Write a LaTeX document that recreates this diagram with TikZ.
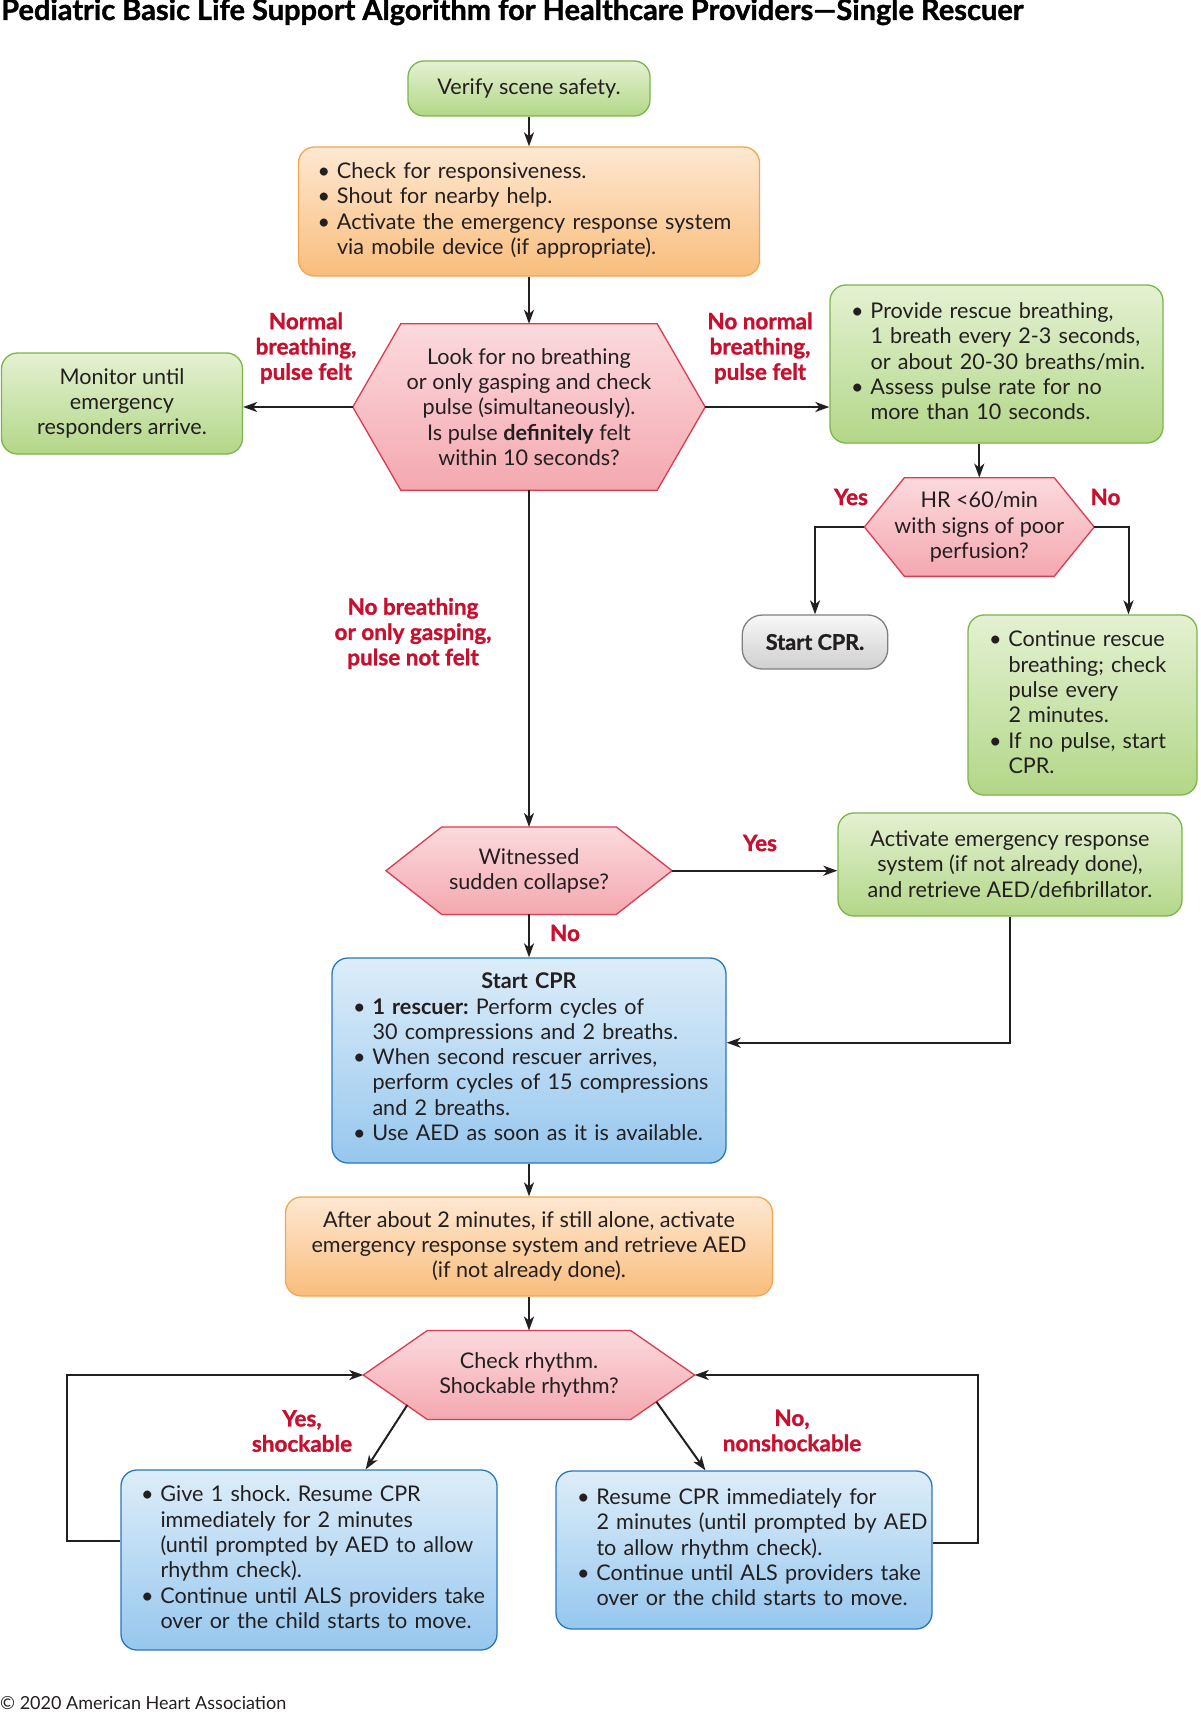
\documentclass[tikz,border=0pt]{standalone}
\usepackage{fontspec}
\setmainfont{Lato}
\newfontfamily\heavyfam{Lato}[FakeBold=1.2]
\usetikzlibrary{arrows.meta,backgrounds,calc}
\definecolor{txt}{HTML}{231F20}
\definecolor{lbl}{HTML}{C8102E}
\definecolor{gT}{HTML}{E4F1D2}
\definecolor{gB}{HTML}{B2D788}
\definecolor{gD}{HTML}{7AB648}
\definecolor{oT}{HTML}{FEE8D2}
\definecolor{oB}{HTML}{F9BD7C}
\definecolor{oD}{HTML}{F4A54E}
\definecolor{pT}{HTML}{FBDADD}
\definecolor{pB}{HTML}{F4A8B0}
\definecolor{pD}{HTML}{DE3A4F}
\definecolor{bT}{HTML}{DDEDF9}
\definecolor{bB}{HTML}{96C7EE}
\definecolor{bD}{HTML}{2A76BD}
\definecolor{yT}{HTML}{F8F8F8}
\definecolor{yB}{HTML}{CFCFCF}
\definecolor{yD}{HTML}{7F7F7F}
\frenchspacing
\newcommand\bodyfont{\fontsize{21.6}{25.3}\selectfont}
\newcommand\labfont{\heavyfam\fontsize{22.5}{25.3}\selectfont\bfseries}
\newcommand\titlefont{\heavyfam\fontsize{29}{32}\selectfont\bfseries}
\newcommand\bulit{\makebox[19.5pt][l]{•}}
\newcommand\hexbg[2]{\begin{pgfonlayer}{background}\path[hexpath] (#1.west) -- ([xshift=#2]#1.north west) -- ([xshift=-#2]#1.north east) -- (#1.east) -- ([xshift=-#2]#1.south east) -- ([xshift=#2]#1.south west) -- cycle;\end{pgfonlayer}}
\tikzset{
  base/.style={rounded corners=16pt, line width=1.3pt, inner sep=0pt, font=\bodyfont, text=txt, align=center},
  gbox/.style={base, draw=gD, top color=gT, bottom color=gB},
  obox/.style={base, draw=oD, top color=oT, bottom color=oB},
  bbox/.style={base, draw=bD, top color=bT, bottom color=bB},
  ybox/.style={base, draw=yD, top color=yT, bottom color=yB},
  hexnode/.style={inner sep=0pt, font=\bodyfont, text=txt, align=center},
  hexpath/.style={draw=pD, line width=1.3pt, top color=pT, bottom color=pB},
  conn/.style={line width=2pt, draw=txt, -{Stealth[length=14pt,width=10pt,inset=4pt]}},
  lab/.style={font=\labfont, text=lbl, align=center, inner sep=0pt},
}
\begin{document}
\begin{tikzpicture}[x=1pt,y=-1pt]
\useasboundingbox (0,0) rectangle (1200,1712);
\begin{pgfonlayer}{background}\fill[white] (0,0) rectangle (1200,1712);\end{pgfonlayer}

\node[anchor=base west, font=\titlefont, text=black, inner sep=0pt] (title) at (1,20) {Pediatric Basic Life Support Algorithm for Healthcare Providers—Single Rescuer};

\node[gbox, minimum width=242pt, minimum height=55pt] (verify) at (529,88.5) {Verify scene safety.};

\node[obox, text width=423pt, inner xsep=19pt, minimum height=129pt, align=left] (chk) at (529,211.5) {\begin{tabular}{@{}l@{}l@{}}\bulit&Check for responsiveness.\\\bulit&Shout for nearby help.\\\bulit&Activate the emergency response system\\&via mobile device (if appropriate).\end{tabular}};

\node[hexnode, minimum width=352pt, minimum height=166pt] (hex1) at (529,407) {Look for no breathing\\or only gasping and check\\pulse (simultaneously).\\Is pulse \textbf{definitely} felt\\within 10 seconds?};
\hexbg{hex1}{48pt}

\node[gbox, minimum width=241pt, minimum height=101pt] (mon) at (122,403.5) {Monitor until\\emergency\\responders arrive.};

\node[gbox, text width=291pt, inner xsep=21pt, minimum height=158pt, align=left] (resc) at (996.5,364) {\begin{tabular}{@{}l@{}l@{}}\bulit&Provide rescue breathing,\\&1 breath every 2-3 seconds,\\&or about 20-30 breaths/min.\\\bulit&Assess pulse rate for no\\&more than 10 seconds.\end{tabular}};

\node[hexnode, minimum width=229.4pt, minimum height=98.3pt] (hr) at (979.3,527) {HR <60/min\\with signs of poor\\perfusion?};
\hexbg{hr}{40pt}

\node[ybox, rounded corners=20pt, minimum width=145.5pt, minimum height=54pt, font=\bodyfont\heavyfam\bfseries] (scpr) at (815,642) {Start CPR.};

\node[gbox, text width=187pt, inner xsep=21pt, minimum height=180pt, align=left] (cont) at (1082.5,705) {\begin{tabular}{@{}l@{}l@{}}\bulit&Continue rescue\\&breathing; check\\&pulse every\\&2 minutes.\\\bulit&If no pulse, start\\&CPR.\end{tabular}};

\node[hexnode, minimum width=285.7pt, minimum height=87pt] (wit) at (529,870.7) {Witnessed\\sudden collapse?};
\hexbg{wit}{55.7pt}

\node[gbox, minimum width=344pt, minimum height=103pt] (act) at (1010,864.5) {Activate emergency response\\system (if not already done),\\and retrieve AED/defibrillator.};

\node[bbox, text width=352pt, inner xsep=21pt, minimum height=205pt, align=left] (cpr) at (529,1060.5) {{\centering\bfseries Start CPR\par}\begin{tabular}[t]{@{}l@{}l@{}}\bulit&\textbf{1 rescuer:} Perform cycles of\\&30 compressions and 2 breaths.\\\bulit&When second rescuer arrives,\\&perform cycles of 15 compressions\\&and 2 breaths.\\\bulit&Use AED as soon as it is available.\end{tabular}};

\node[obox, minimum width=487pt, minimum height=99pt] (aft) at (529,1246.5) {After about 2 minutes, if still alone, activate\\emergency response system and retrieve AED\\(if not already done).};

\node[hexnode, minimum width=331pt, minimum height=88.6pt] (rhy) at (529,1375) {Check rhythm.\\Shockable rhythm?};
\hexbg{rhy}{64pt}

\node[bbox, text width=336pt, inner xsep=20pt, minimum height=180pt, align=left] (shk) at (309,1560) {\begin{tabular}{@{}l@{}l@{}}\bulit&Give 1 shock. Resume CPR\\&immediately for 2 minutes\\&(until prompted by AED to allow\\&rhythm check).\\\bulit&Continue until ALS providers take\\&over or the child starts to move.\end{tabular}};

\node[bbox, text width=334pt, inner xsep=21pt, minimum height=158pt, align=left] (nsh) at (744,1550) {\begin{tabular}{@{}l@{}l@{}}\bulit&Resume CPR immediately for\\&2 minutes (until prompted by AED\\&to allow rhythm check).\\\bulit&Continue until ALS providers take\\&over or the child starts to move.\end{tabular}};

% labels
\node[lab] (lnorm) at (306,348) {Normal\\breathing,\\pulse felt};
\node[lab] (lnonorm) at (760,348) {No normal\\breathing,\\pulse felt};
\node[lab] (lnob) at (413,633.5) {No breathing\\or only gasping,\\pulse not felt};
\node[lab] (lyhr) at (851,497) {Yes};
\node[lab] (lnhr) at (1105.5,497) {No};
\node[lab] (lyw) at (760,843) {Yes};
\node[lab] (lnw) at (565,933) {No};
\node[lab] (lys) at (302,1431) {Yes,\\shockable};
\node[lab] (lns) at (792,1430.5) {No,\\nonshockable};

\node[anchor=west, font=\fontsize{18}{20}\selectfont, text=txt, inner sep=0pt] (copy) at (0,1703) {© 2020 American Heart Association};

% connectors
\coordinate (cL) at (66.5,1375);
\coordinate (cR) at (978,1375);
\draw[conn] (verify.south) -- (chk.north);
\draw[conn] (chk.south) -- (hex1.north);
\draw[conn] (hex1.west) -- (hex1.west -| mon.east);
\draw[conn] (hex1.east) -- (hex1.east -| resc.west);
\draw[conn] (hr.north |- resc.south) -- (hr.north);
\draw[conn] (hr.west) -| (scpr.north);
\draw[conn] (hr.east) -| ([xshift=46pt]cont.north);
\draw[conn] (hex1.south) -- (wit.north);
\draw[conn] (wit.east) -- (wit.east -| act.west);
\draw[conn] (wit.south) -- (cpr.north);
\draw[conn] (act.south) |- ([yshift=17.8pt]cpr.east);
\draw[conn] (cpr.south) -- (aft.north);
\draw[conn] (aft.south) -- (rhy.north);
\draw[conn] ([xshift=-121.7pt,yshift=-30pt]rhy.center) -- ([xshift=56.7pt]shk.north);
\draw[conn] ([xshift=127.4pt,yshift=-26.7pt]rhy.center) -- ([xshift=-38.6pt]nsh.north);
\draw[conn] ([yshift=19.3pt]shk.west) -| (cL) -- (rhy.west);
\draw[conn] ([yshift=7pt]nsh.east) -| (cR) -- (rhy.east);
\end{tikzpicture}
\end{document}
